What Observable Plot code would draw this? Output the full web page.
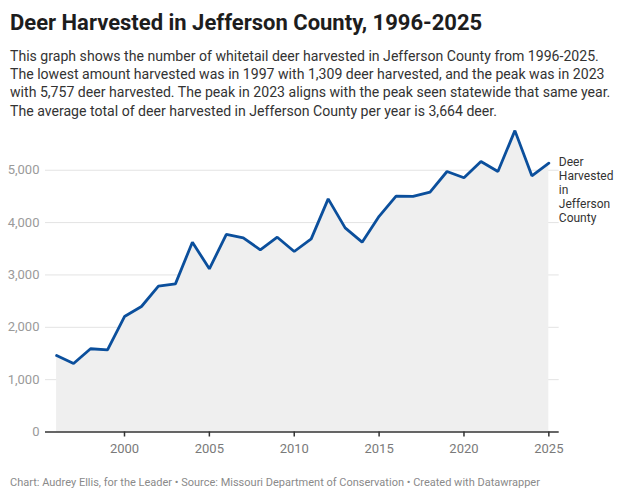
<!DOCTYPE html>
<html>
<head>
<meta charset="utf-8">
<script src="https://cdn.jsdelivr.net/npm/d3@7"></script>
<script src="https://cdn.jsdelivr.net/npm/@observablehq/plot@0.6"></script>
<style>
  html, body { margin: 0; padding: 0; background: #fff; }
  body { width: 624px; height: 500px; position: relative; font-family: Roboto, "Noto Sans", sans-serif; overflow: hidden; }
  #title { position: absolute; left: 10px; top: 10px; font-size: 22px; font-weight: 700; color: #1d1d1d; white-space: nowrap; }
  #subtitle { position: absolute; left: 10px; top: 47px; width: 614px; font-size: 14.1px; line-height: 18.2px; color: #333; white-space: nowrap; }
  #chart { position: absolute; left: 0; top: 100px; }
  #caption { position: absolute; left: 10px; top: 476px; font-size: 11px; color: #8a8a8a; white-space: nowrap; }
</style>
</head>
<body>
<div id="title"></div>
<div id="subtitle"></div>
<div id="chart"></div>
<div id="caption"></div>
<script>
const titleText = "Deer Harvested in Jefferson County, 1996-2025";
const subtitleLines = [
  "This graph shows the number of whitetail deer harvested in Jefferson County from 1996-2025.",
  "The lowest amount harvested was in 1997 with 1,309 deer harvested, and the peak was in 2023",
  "with 5,757 deer harvested. The peak in 2023 aligns with the peak seen statewide that same year.",
  "The average total of deer harvested in Jefferson County per year is 3,664 deer."
];
const captionText = "Chart: Audrey Ellis, for the Leader \u2022 Source: Missouri Department of Conservation \u2022 Created with Datawrapper";
const seriesLabel = "Deer\nHarvested\nin\nJefferson\nCounty";

const years = [1996, 1997, 1998, 1999, 2000, 2001, 2002, 2003, 2004, 2005,
               2006, 2007, 2008, 2009, 2010, 2011, 2012, 2013, 2014, 2015,
               2016, 2017, 2018, 2019, 2020, 2021, 2022, 2023, 2024, 2025];
const deer = [1460, 1309, 1590, 1570, 2206, 2397, 2785, 2830, 3626, 3117,
              3773, 3709, 3480, 3721, 3448, 3690, 4454, 3900, 3626, 4120,
              4505, 4500, 4581, 4976, 4856, 5167, 4976, 5757, 4894, 5135];
const xTicks = [2000, 2005, 2010, 2015, 2020, 2025];
const yTicks = [0, 1000, 2000, 3000, 4000, 5000];

const data = years.map((year, i) => ({year, deer: deer[i]}));
const last = data[data.length - 1];

document.getElementById("title").textContent = titleText;
document.getElementById("subtitle").innerHTML = subtitleLines.map(s => `<div>${s}</div>`).join("");
document.getElementById("caption").textContent = captionText;

const chart = Plot.plot({
  width: 624,
  height: 375,
  marginTop: 17.4,
  marginBottom: 43.5,
  marginLeft: 45,
  marginRight: 65.3,
  style: {fontFamily: "Roboto, sans-serif", fontSize: "12.5px", overflow: "visible"},
  x: {domain: [1995.346, 2025.61], ticks: xTicks, tickFormat: d => String(d), label: null},
  y: {domain: [0, 6000], ticks: yTicks, label: null},
  marks: [
    Plot.gridY(yTicks.filter(d => d > 0), {stroke: "#e3e3e3", strokeOpacity: 1, strokeWidth: 1}),
    Plot.areaY(data, {x: "year", y: "deer", fill: "#efefef"}),
    Plot.ruleY([0], {stroke: "#333", strokeWidth: 1.5}),
    Plot.axisX({ticks: xTicks, tickSize: 5, tickPadding: 7, stroke: "#333", strokeWidth: 1.5, color: "#7a7a7a", tickFormat: d => String(d), fontSize: 13, label: null}),
    Plot.axisY({ticks: yTicks, tickSize: 0, tickPadding: 6, color: "#9a9a9a", tickFormat: d3.format(","), fontSize: 13, label: null}),
    Plot.line(data, {x: "year", y: "deer", stroke: "#0b4f9c", strokeWidth: 2.8, strokeLinejoin: "miter"}),
    Plot.text([last], {x: "year", y: "deer", text: () => seriesLabel, dx: 10, dy: -7, textAnchor: "start", lineAnchor: "top", lineHeight: 1.17, fontSize: 12, fill: "#333"})
  ]
});
document.getElementById("chart").appendChild(chart);
</script>
</body>
</html>
